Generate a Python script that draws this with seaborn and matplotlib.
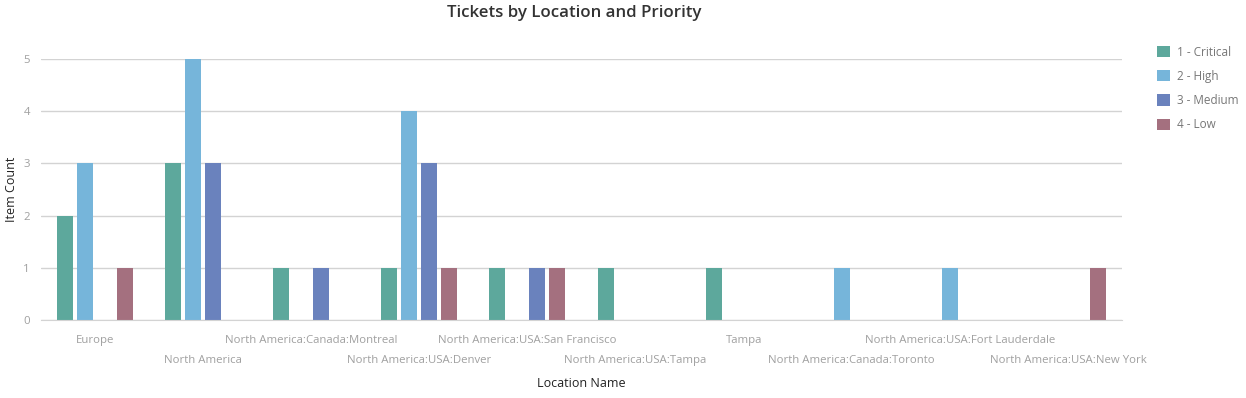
import matplotlib
matplotlib.use("Agg")
import matplotlib.pyplot as plt
import seaborn as sns
import pandas as pd

locations = ["Europe", "North America", "North America:Canada:Montreal",
             "North America:USA:Denver", "North America:USA:San Francisco",
             "North America:USA:Tampa", "Tampa", "North America:Canada:Toronto",
             "North America:USA:Fort Lauderdale", "North America:USA:New York"]
priorities = ["1 - Critical", "2 - High", "3 - Medium", "4 - Low"]
critical = [2, 3, 1, 1, 1, 1, 1, 0, 0, 0]
high = [3, 5, 0, 4, 0, 0, 0, 1, 1, 0]
medium = [0, 3, 1, 3, 1, 0, 0, 0, 0, 0]
low = [1, 0, 0, 1, 1, 0, 0, 0, 0, 1]
colors = ["#5da89c", "#76b5da", "#6a82bd", "#a4707f"]

rows = []
for pr, vals in zip(priorities, [critical, high, medium, low]):
    for loc, v in zip(locations, vals):
        rows.append({"Location Name": loc, "Priority": pr, "Item Count": v})
df = pd.DataFrame(rows)

sns.set_style("white")
plt.rcParams["font.family"] = ["Open Sans", "DejaVu Sans"]

fig = plt.figure(figsize=(12.46, 3.98), dpi=100)
ax = fig.add_axes([41/1246, 78/398, (1122-41)/1246, (320-59)/398])

sns.barplot(data=df, x="Location Name", y="Item Count", hue="Priority",
            order=locations, hue_order=priorities, palette=colors,
            width=0.74, gap=0.2, saturation=1, linewidth=0, edgecolor="none",
            ax=ax, legend=True)

ax.set_ylim(0, 5)
ax.set_xlim(-0.5, len(locations) - 0.5)
ax.set_yticks([0, 1, 2, 3, 4, 5])
ax.yaxis.grid(True, color="#d3d3d3", linewidth=1)
ax.set_axisbelow(True)
for s in ["top", "right", "left"]:
    ax.spines[s].set_visible(False)
ax.spines["bottom"].set_color("#d3d3d3")
ax.tick_params(axis="both", length=0, labelsize=8.2, labelcolor="#a0a0a0")
ax.tick_params(axis="y", pad=8)

for i, t in enumerate(ax.xaxis.get_major_ticks()):
    t.set_pad(10.5 if i % 2 == 0 else 25)

ax.set_xlabel("Location Name", fontsize=9, color="#222222", labelpad=8)
ax.set_ylabel("Item Count", fontsize=9, color="#222222", labelpad=4)

fig.text(574/1246, 1 - 13/398, "Tickets by Location and Priority", ha="center", va="center",
         fontsize=12.2, fontweight="semibold", color="#333333")

handles, labels = ax.get_legend_handles_labels()
ax.legend(handles, labels, loc="upper left", bbox_to_anchor=(1146/1246, 1 - 35/398),
          bbox_transform=fig.transFigure, frameon=False, fontsize=8.5,
          labelcolor="#777777", handlelength=1.1, handleheight=1.1,
          labelspacing=0.95, handletextpad=0.6)

fig.savefig("out.png", dpi=100)
